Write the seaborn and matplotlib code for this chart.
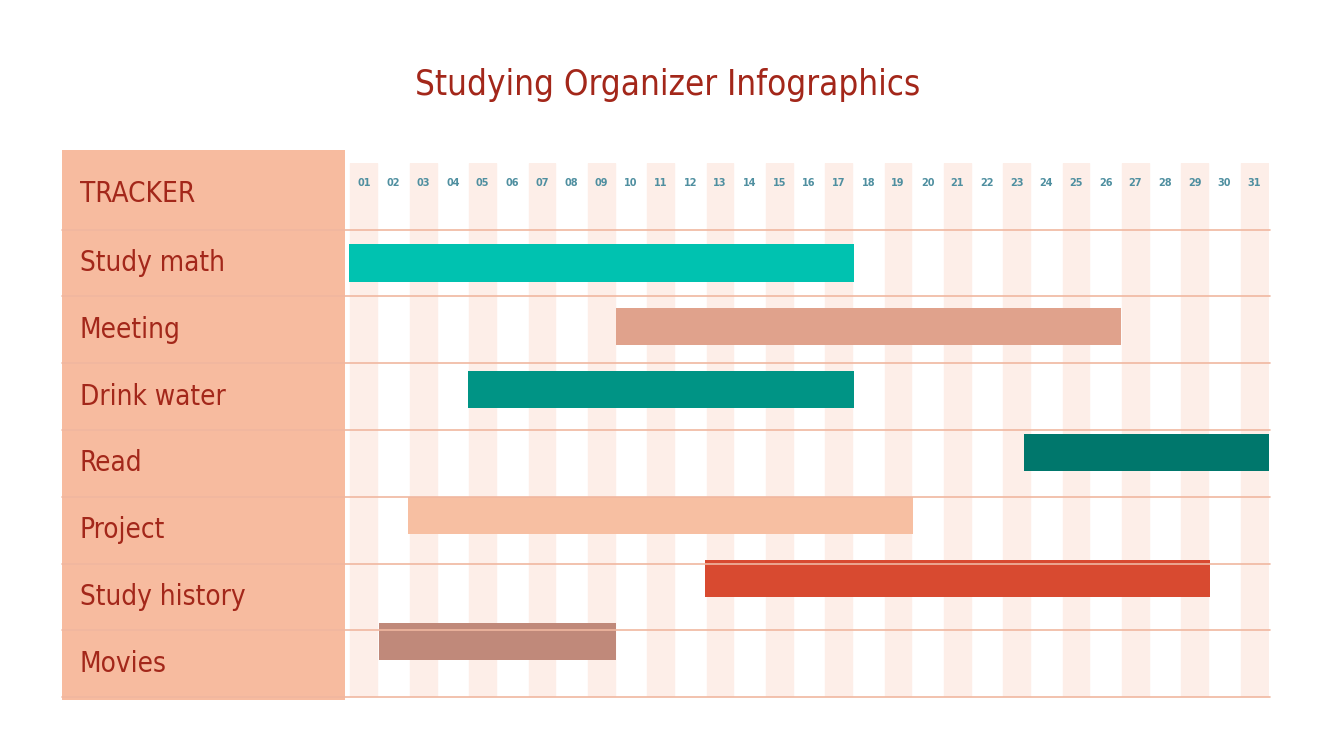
import matplotlib
matplotlib.use("Agg")
import matplotlib.pyplot as plt
import seaborn as sns
from matplotlib.patches import Rectangle

tasks = ["Study math", "Meeting", "Drink water", "Read", "Project", "Study history", "Movies"]
start_day = [1, 10, 5, 23.75, 3, 13, 2]
end_day = [17, 26, 17, 31, 19, 29, 9]
colors = ["#00c2b0", "#e0a28c", "#009485", "#00776c", "#f7bfa2", "#d84a30", "#c0897a"]
days = [f"{d:02d}" for d in range(1, 32)]

sns.set_theme(style="white")
plt.rcParams['font.family'] = ['DejaVu Sans']

W, H = 1336, 752
fig = plt.figure(figsize=(W / 100, H / 100), dpi=100)
fig.patch.set_facecolor("white")

# left tracker panel (figure coords)
fig.patches.append(Rectangle((62 / W, 1 - 700 / H), (345 - 62) / W, (700 - 150) / H,
                             transform=fig.transFigure, facecolor="#f7bb9f", edgecolor="none", zorder=0))

ax = fig.add_axes([349 / W, 1 - 697 / H, 920 / W, 534 / H])
ax.set_xlim(0.5, 31.5)
ax.set_ylim(8, 0)
ax.axis("off")

for d in range(1, 32, 2):
    ax.axvspan(d - 0.45, d + 0.45, color="#fdeee8", zorder=0)
for i, lab in enumerate(days):
    ax.text(i + 1, 0.3, lab, ha="center", va="center", fontsize=7, color="#4f8fa0", fontweight="bold")

# bars sit a little higher than the row centres further down, as in the original
rows = [1.5 + k * 0.945 for k in range(len(tasks))]
ax.barh(rows, [e - s + 1 for s, e in zip(start_day, end_day)], left=[s - 0.5 for s in start_day],
        height=0.56, color=colors, linewidth=0, zorder=3)

# row lines across panel and grid
for k in range(1, 9):
    y = 163 + k * 534 / 8
    fig.add_artist(plt.Line2D([62 / W, 1270 / W], [1 - y / H] * 2, color="#f0b7a0", lw=1.2,
                              transform=fig.transFigure, zorder=1))

label_kw = dict(transform=fig.transFigure, color="#a3271a", fontsize=20, fontstretch="condensed", va="center")
fig.text(80 / W, 1 - 194 / H, "TRACKER", **label_kw)
for k, t in enumerate(tasks):
    y = 163 + (k + 1.5) * 534 / 8
    fig.text(80 / W, 1 - y / H, t, **label_kw)

fig.text(0.5, 1 - 85 / H, "Studying Organizer Infographics", ha="center", va="center",
         fontsize=25, color="#a3271a", fontstretch="condensed")

fig.savefig("out.png", dpi=100, facecolor="white")
